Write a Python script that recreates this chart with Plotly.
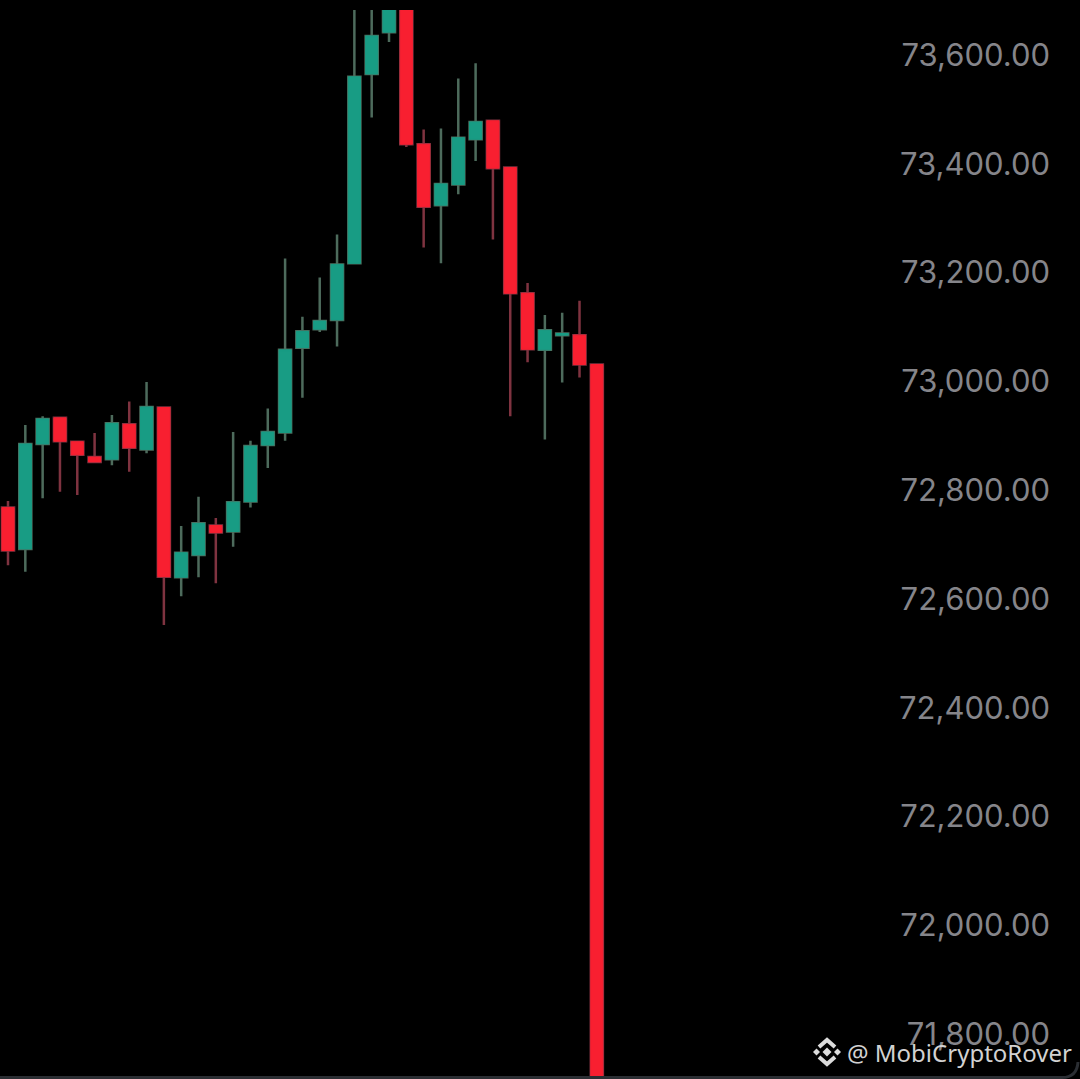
import numpy as np
import plotly.graph_objects as go

# candle index, left to right
bars = list(range(35))

opens = [72768, 72692, 72885, 72933, 72889, 72861, 72857, 72921, 72875, 72952,
         72640, 72681, 72735, 72724, 72779, 72883, 72906, 73062, 73096, 73113,
         73217, 73565, 73642, 73700, 73436, 73324, 73362, 73445, 73479, 73393,
         73162, 73058, 73085, 73085, 73031]
highs = [72780, 72920, 72936, 72935, 72890, 72905, 72938, 72963, 72999, 72953,
         72734, 72788, 72749, 72907, 72891, 72950, 73226, 73119, 73191, 73270,
         73720, 73720, 73730, 73710, 73463, 73465, 73557, 73585, 73480, 73394,
         73181, 73122, 73126, 73148, 73032]
lows = [72662, 72650, 72785, 72797, 72791, 72850, 72846, 72834, 72868, 72552,
        72605, 72640, 72629, 72696, 72768, 72841, 72891, 72970, 73091, 73064,
        73215, 73485, 73624, 73431, 73246, 73217, 73344, 73405, 73261, 72936,
        73035, 72893, 72998, 73007, 71700]
closes = [72689, 72885, 72931, 72890, 72865, 72852, 72923, 72878, 72953, 72641,
          72685, 72739, 72722, 72778, 72881, 72907, 73058, 73092, 73111, 73215,
          73560, 73635, 73700, 73436, 73321, 73363, 73448, 73477, 73392, 73162,
          73059, 73094, 73088, 73031, 71700]

price_ticks = [73600, 73400, 73200, 73000, 72800, 72600, 72400, 72200, 72000, 71800]

GREEN = "#189c84"
RED = "#f81f30"
GREEN_WICK = "#4d6b5c"
RED_WICK = "#7f3340"
LOGO = "#dcdcdc"

fig = go.Figure()

# wicks first, in a dimmer colour
fig.add_trace(go.Candlestick(
    x=bars, open=opens, high=highs, low=lows, close=closes,
    increasing=dict(line=dict(color=GREEN_WICK, width=2.5), fillcolor=GREEN_WICK),
    decreasing=dict(line=dict(color=RED_WICK, width=2.5), fillcolor=RED_WICK),
    whiskerwidth=0, showlegend=False,
))

# bodies on top, no wick of their own
body_top = np.maximum(opens, closes)
body_bottom = np.minimum(opens, closes)
fig.add_trace(go.Candlestick(
    x=bars, open=opens, high=body_top, low=body_bottom, close=closes,
    increasing=dict(line=dict(color=GREEN, width=1), fillcolor=GREEN),
    decreasing=dict(line=dict(color=RED, width=1), fillcolor=RED),
    whiskerwidth=0, showlegend=False,
))

fig.update_layout(
    width=1080,
    height=1079,
    margin=dict(l=0, r=27, t=10, b=3),
    paper_bgcolor="#000000",
    plot_bgcolor="#000000",
    boxmode="overlay",
    boxgap=0.0,
    showlegend=False,
    font=dict(family="Inter", color="#85858a"),
    xaxis=dict(range=[-0.462, 60.34], visible=False, rangeslider=dict(visible=False)),
    yaxis=dict(
        side="right",
        range=[71723.1, 73682.7],
        tickmode="array",
        tickvals=price_ticks,
        tickformat=",.2f",
        ticklabelposition="inside",
        ticks="",
        showgrid=False,
        zeroline=False,
        showline=False,
        tickfont=dict(family="Inter", size=31, color="#85858a"),
    ),
)


def px_x(x):
    return x / 1053


def px_y(y):
    return (1076 - y) / 1066


# thin lighter strip along the bottom of the screenshot, curving up at the corner
fig.add_shape(
    type="path", xref="paper", yref="paper",
    path=f"M 0 {px_y(1077.5)} L {px_x(1062)} {px_y(1077.5)} "
         f"Q {px_x(1077)} {px_y(1077.5)} {px_x(1078)} {px_y(1062)}",
    line=dict(color="#2b2e33", width=3),
)

# watermark
fig.add_annotation(
    xref="paper", yref="paper", x=px_x(1073.5), y=px_y(1052),
    xanchor="right", yanchor="middle", showarrow=False,
    text="@ MobiCryptoRover",
    font=dict(family="Noto Sans", size=24, color="#d2d2d2"),
)

# exchange logo: three small diamonds and two chevrons
logo_cx, logo_cy = 827, 1052
for dx, r in [(0, 4.5), (-10.5, 3.5), (10.5, 3.5)]:
    fig.add_shape(
        type="path", xref="paper", yref="paper",
        path=(f"M {px_x(logo_cx+dx-r)} {px_y(logo_cy)} L {px_x(logo_cx+dx)} {px_y(logo_cy-r)} "
              f"L {px_x(logo_cx+dx+r)} {px_y(logo_cy)} L {px_x(logo_cx+dx)} {px_y(logo_cy+r)} Z"),
        fillcolor=LOGO, line=dict(width=0),
    )
for sign in [1, -1]:
    fig.add_shape(
        type="path", xref="paper", yref="paper",
        path=(f"M {px_x(logo_cx-8)} {px_y(logo_cy+sign*5)} L {px_x(logo_cx)} {px_y(logo_cy+sign*12)} "
              f"L {px_x(logo_cx+8)} {px_y(logo_cy+sign*5)}"),
        line=dict(color=LOGO, width=4),
    )

# the page's default body margin would push the chart off the screenshot
fig.write_html(
    "out.html",
    config=dict(displayModeBar=False),
    post_script="document.body.style.margin='0';document.body.style.overflow='hidden';document.body.style.background='#000';",
)
